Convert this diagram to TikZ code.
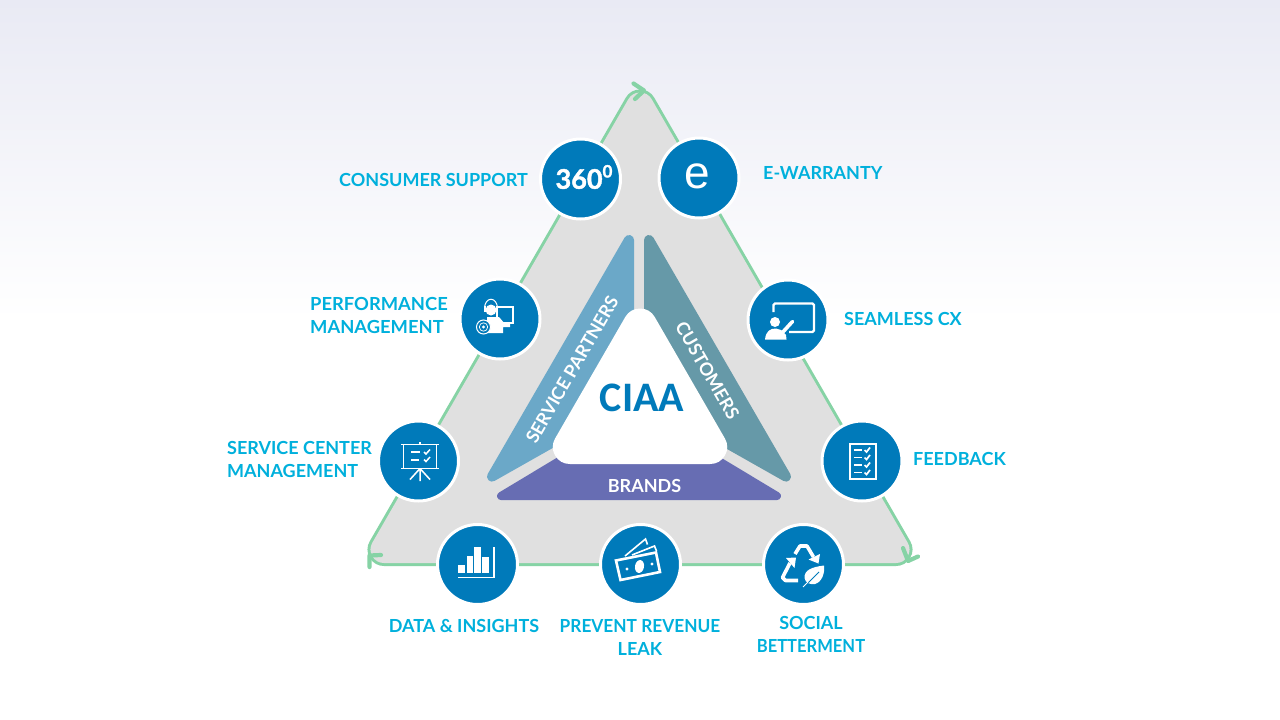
\documentclass[tikz,border=0pt]{standalone}
\usepackage{graphicx}
\usepackage{fontspec}
\setmainfont{Lato}
\newfontfamily\carlitof{Carlito}
\newfontfamily\arialf{Liberation Sans}
\newfontfamily\heavyf[BoldFeatures={FakeBold=1.6}]{Lato}
\newcommand{\hs}[2]{\scalebox{#1}[1]{#2}}
\definecolor{bgtop}{HTML}{E9EAF4}
\definecolor{tri}{HTML}{E0E0E0}
\definecolor{grn}{HTML}{86D3A5}
\definecolor{cblue}{HTML}{007ABA}
\definecolor{lab}{HTML}{00B0DC}
\definecolor{spblue}{HTML}{6BA8C8}
\definecolor{cuteal}{HTML}{6699A8}
\definecolor{brpurple}{HTML}{676DB3}
\tikzset{
  hub/.style={circle,fill=cblue,draw=white,line width=3pt,minimum size=80pt,inner sep=0pt},
  lbl/.style={text=lab,font=\fontsize{18}{23}\selectfont\bfseries,inner sep=0pt},
  lblL/.style={lbl,anchor=west,align=left},
  lblC/.style={lbl,anchor=center,align=center},
  band/.style={text=white,font=\fontsize{18}{20}\selectfont\bfseries,inner sep=0pt},
  ico/.style={draw=white,line width=1.6pt,fill=none},
  barb/.style={draw=grn,line width=4.2pt,line cap=round,line join=round},
  softpoly/.style={line join=round,line width=#1}
}
\begin{document}
\begin{tikzpicture}[x=1pt,y=-1pt]
\useasboundingbox (0,0) rectangle (1280,720);
\shade[top color=bgtop,bottom color=white] (0,0) rectangle (1280,320);
\fill[white] (0,320) rectangle (1280,720);
% big triangle: a green outer stroke, then the grey body on it
\draw[draw=grn,softpoly=33pt] (640,106) -- (896,549.5) -- (384,549.5) -- cycle;
\draw[draw=tri,fill=tri,softpoly=27pt] (640,106) -- (896,549.5) -- (384,549.5) -- cycle;
\draw[barb] (633.5,83.5) -- (644,90.5) -- (635,99);
\draw[barb] (903,548) -- (908,561) -- (918,556.5);
\draw[barb] (381,555) -- (369.5,555.5) -- (369.5,567);
% sectors
\draw[fill=spblue,draw=spblue,softpoly=10pt] (629,240) -- (492,476.6) -- (600,415.5) -- (629,398) -- cycle;
\draw[fill=cuteal,draw=cuteal,softpoly=10pt] (649,240) -- (786,476.6) -- (678,415.5) -- (649,398) -- cycle;
\draw[fill=brpurple,draw=brpurple,softpoly=8pt] (501,496) -- (777,496) -- (700,449.7) -- (578,449.7) -- cycle;
\draw[fill=white,draw=white,softpoly=34pt] (640,325.5) -- (710.2,447) -- (569.8,447) -- cycle;
% centre texts
\node[text=cblue,font=\carlitof\fontsize{42}{42}\selectfont\bfseries,inner sep=0pt] (ciaa) at (642,397.5) {CIAA};
\node[band] (brands) at (644.5,485.5) {BRANDS};
\node[band,rotate=60] (sp) at (572,369.5) {SERVICE PARTNERS};
\node[band,rotate=-60] (cu) at (707.5,370.5) {CUSTOMERS};
% hubs
\node[hub] (h360) at (580.5,179) {};
\node[hub] (he) at (699,178) {};
\node[hub] (hsc) at (788,320) {};
\node[hub] (hfb) at (862,461) {};
\node[hub] (hsb) at (803.5,564.5) {};
\node[hub] (hrv) at (640.5,564.5) {};
\node[hub] (hdi) at (477.5,564.5) {};
\node[hub] (hsm) at (418.5,461) {};
\node[hub] (hpm) at (500,319) {};
\node[text=white,font=\heavyf\fontsize{27}{27}\selectfont\bfseries,inner sep=0pt] (t360) at (584,177) {360\raisebox{.42em}{\fontsize{17}{17}\selectfont 0}};
\node[text=white,font=\arialf\fontsize{46}{46}\selectfont,inner sep=0pt] (te) at (697,176) {e};
% labels
\node[lblL] (l1) at (339,180) {CONSUMER SUPPORT};
\node[lblL] (l2) at (763,173) {E-WARRANTY};
\node[lblL] (l3) at (844,319) {SEAMLESS CX};
\node[lblL] (l4) at (913,459) {FEEDBACK};
\node[lblL] (l5) at (310,315.5) {\hs{1.02}{PERFORMANCE}\\\hs{1.02}{MANAGEMENT}};
\node[lblL] (l6) at (227,459.5) {SERVICE CENTER\\MANAGEMENT};
\node[lblC] (l7) at (464,626) {DATA \& INSIGHTS};
\node[lblC] (l8) at (640,637.5) {\hs{.96}{PREVENT REVENUE}\\LEAK};
\node[lblC] (l9) at (811,634.5) {SOCIAL\\\hs{.92}{BETTERMENT}};
% icon: performance
\draw[ico,line width=1.2pt] (497,307) rectangle (513,323);
\fill[white] (487,317) -- (499,317) -- (505,324) -- (510,324) -- (510,327) -- (503,327) -- (503,333) -- (487,333) -- cycle;
\fill[white] (491,310) circle (5.5pt);
\draw[white,line width=1pt] (484.5,309) .. controls (484.5,296) and (497.5,296) .. (497.5,309);
\fill[white] (483.5,306) rectangle (486,312);
\draw[white,fill=cblue,line width=1pt] (483.5,327) circle (7pt);
\draw[white,line width=.7pt] (483.5,327) circle (4.2pt);
\fill[white] (483.5,327) circle (1.6pt);
% icon: seamless
\draw[ico,line width=2.2pt,rounded corners=1.5pt] (773.5,312) -- (773.5,303.5) -- (814,303.5) -- (814,332) -- (789,332);
\fill[white] (775,322) circle (5pt);
\fill[white] (765,339.5) .. controls (766,331) and (770,328.5) .. (776,328.5) -- (781,330) -- (786,335) -- (786.5,339.5) -- cycle;
\draw[white,line width=3.6pt,line cap=round] (782,333) -- (792.5,321.5);
% icon: feedback
\draw[ico,line width=2pt] (849.5,443.5) rectangle (875.5,478.5);
\foreach \yy in {450,457.5,465,472.5}{
  \draw[white,line width=1.4pt] (854,\yy) -- (862,\yy);
  \draw[white,line width=1.7pt] (864.5,\yy) -- (866.5,\yy+2) -- (870,\yy-2.5);
}
% icon: service center
\draw[white,line width=1.5pt] (401,444.5) -- (439,444.5);
\draw[white,line width=1.5pt] (401,468.5) -- (439,468.5);
\draw[white,line width=1.5pt] (420,442) -- (420,444);
\draw[white,line width=1.7pt] (403.5,444.5) -- (403.5,468.5) (436.5,444.5) -- (436.5,468.5);
\draw[white,line width=1.5pt] (420,468.5) -- (420,481) (420,468.5) -- (410,479.5) (420,468.5) -- (430,479.5);
\draw[white,line width=1.3pt] (411,452) -- (420,452) (411,460) -- (419,460);
\draw[white,line width=1.5pt] (424,452) -- (426,454) -- (430,449.5) (424,459.5) -- (426,461.5) -- (430,457);
% icon: data
\fill[white] (458.3,565) rectangle (465,573.3);
\fill[white] (466.7,555.7) rectangle (473.3,573.3);
\fill[white] (474.3,547.3) rectangle (480.7,573.3);
\fill[white] (482.3,556.7) rectangle (489,573.3);
\draw[white,line width=1.6pt] (494,547) -- (494,577.5) -- (458,577.5);
% icon: money
\draw[white,line width=1.6pt,line join=miter] (625,556) -- (645.5,539) -- (647.5,544.5) (632,555) -- (654.5,546) -- (656.5,551);
\draw[white,line width=2.6pt,line join=miter] (616,560.5) -- (656,552.5) -- (660,572) -- (620.5,580) -- cycle;
\fill[white,rotate around={-10:(639.5,566.5)}] (639.5,566.5) ellipse[x radius=4.5pt,y radius=6.5pt];
\fill[white] (627,569) circle (1.7pt) (652,564) circle (1.7pt);
% icon: recycle
\draw[white,line width=3.6pt,line join=round] (795,554) -- (800,546) -- (807,546) -- (813.5,557);
\fill[white] (808.5,559.5) -- (820,554) -- (818.5,563.5) -- cycle;
\draw[white,line width=3.6pt,line join=round] (790,563) -- (782.5,577.5) -- (785.5,580.5) -- (798,580.5);
\fill[white] (786,558) -- (796,557.5) -- (794.5,568) -- cycle;
\fill[white] (824,565.5) .. controls (812,567) and (804,570) .. (804.5,578) .. controls (805,583) and (811,585) .. (815,584) .. controls (822,582) and (825,573) .. (824,565.5) -- cycle;
\draw[cblue,line width=1pt] (808,583) -- (819,572);
\draw[white,line width=1pt] (803,587) -- (808,582);
\end{tikzpicture}
\end{document}
